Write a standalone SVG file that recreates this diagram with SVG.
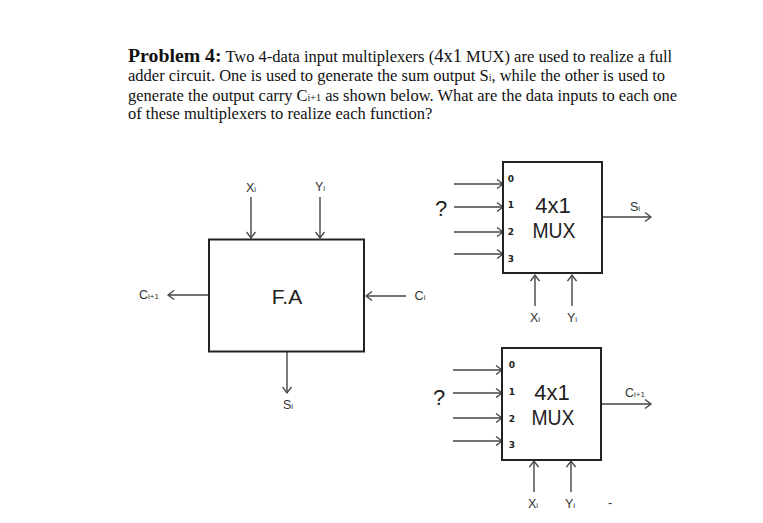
<svg xmlns="http://www.w3.org/2000/svg" width="763" height="523" viewBox="0 0 763 523">
<defs>
<marker id="arr" markerWidth="10" markerHeight="10" refX="8" refY="5" orient="auto" markerUnits="userSpaceOnUse"><path d="M2 0.5 L8 5 L2 9.5" fill="none" stroke="#444" stroke-width="1.3"/></marker>
</defs>
<style>
.p{font-family:"Liberation Serif",serif;font-size:16.5px;fill:#111}
.b{font-weight:bold;font-size:19.8px}
.m{font-size:18.5px}
.s{font-size:10px}
.box{fill:#fff;stroke:#222;stroke-width:2}
.c{fill:none;stroke:#444;stroke-width:1.4;marker-end:url(#arr)}
.l{font-family:"Liberation Sans",sans-serif;fill:#333;font-size:12.500px;text-anchor:middle}
.u{font-size:8px}
.big{font-family:"Liberation Sans",sans-serif;fill:#222;font-size:22px;text-anchor:middle}
.n{font-family:"DejaVu Sans",sans-serif;font-weight:bold;fill:#222;font-size:9px;text-anchor:middle}
</style>
<rect width="763" height="523" fill="#fff"/>
<g id="problem">
<text class="p" x="128" y="62"><tspan class="b">Problem 4:</tspan> Two 4-data input multiplexers (<tspan class="m">4x1</tspan> MUX) are used to realize a full</text>
<text class="p" x="128" y="81">adder circuit. One is used to generate the sum output S<tspan class="s">i</tspan>, while the other is used to</text>
<text class="p" x="128" y="101">generate the output carry C<tspan class="s">i+1</tspan> as shown below. What are the data inputs to each one</text>
<text class="p" x="128" y="119">of these multiplexers to realize each function?</text>
</g>
<g id="connectors">
<path class="c" d="M251 197V238"/>
<path class="c" d="M320 197V238"/>
<path class="c" d="M209 295H168"/>
<path class="c" d="M406 296H366"/>
<path class="c" d="M287 351V393"/>
<path class="c" d="M454 184H503"/>
<path class="c" d="M454 207H503"/>
<path class="c" d="M454 232H503"/>
<path class="c" d="M454 254H503"/>
<path class="c" d="M603 217H651"/>
<path class="c" d="M535 306V275"/>
<path class="c" d="M572 306V275"/>
<path class="c" d="M453 370H502"/>
<path class="c" d="M453 393H502"/>
<path class="c" d="M453 418H502"/>
<path class="c" d="M453 441H502"/>
<path class="c" d="M602 404H651"/>
<path class="c" d="M534 492V461"/>
<path class="c" d="M571 492V461"/>
</g>
<g id="fa">
<rect class="box" x="209" y="239.500" width="155" height="112"/>
<text class="big" x="287" y="304" style="font-size:21px">F.A</text>
</g>
<g id="mux-sum">
<rect class="box" x="503" y="162" width="99" height="111"/>
<text class="n" x="511" y="182">0</text>
<text class="n" x="511" y="208">1</text>
<text class="n" x="511" y="235">2</text>
<text class="n" x="511" y="262">3</text>
<text class="big" x="553" y="213">4x1</text>
<text class="big" x="554" y="238" textLength="43" lengthAdjust="spacingAndGlyphs">MUX</text>
</g>
<g id="mux-carry">
<rect class="box" x="502" y="348" width="99" height="112"/>
<text class="n" x="512" y="368">0</text>
<text class="n" x="512" y="395">1</text>
<text class="n" x="512" y="422">2</text>
<text class="n" x="512" y="448">3</text>
<text class="big" x="552" y="400">4x1</text>
<text class="big" x="553" y="425" textLength="43" lengthAdjust="spacingAndGlyphs">MUX</text>
</g>
<g id="labels">
<text class="l" x="251" y="192">X<tspan class="u">i</tspan></text>
<text class="l" x="320" y="191">Y<tspan class="u">i</tspan></text>
<text class="l" x="149" y="299">C<tspan class="u">i+1</tspan></text>
<text class="l" x="420" y="300">C<tspan class="u">i</tspan></text>
<text class="l" x="288" y="409">S<tspan class="u">i</tspan></text>
<text class="l" x="635" y="211">S<tspan class="u">i</tspan></text>
<text class="l" x="535" y="322">X<tspan class="u">i</tspan></text>
<text class="l" x="572" y="322">Y<tspan class="u">i</tspan></text>
<text class="l" x="635" y="397">C<tspan class="u">i+1</tspan></text>
<text class="l" x="533" y="508">X<tspan class="u">i</tspan></text>
<text class="l" x="570" y="508">Y<tspan class="u">i</tspan></text>
<text class="l" x="610" y="507" fill="#777">-</text>
<text class="big" x="441" y="216">?</text>
<text class="big" x="439" y="405">?</text>
</g>
</svg>
